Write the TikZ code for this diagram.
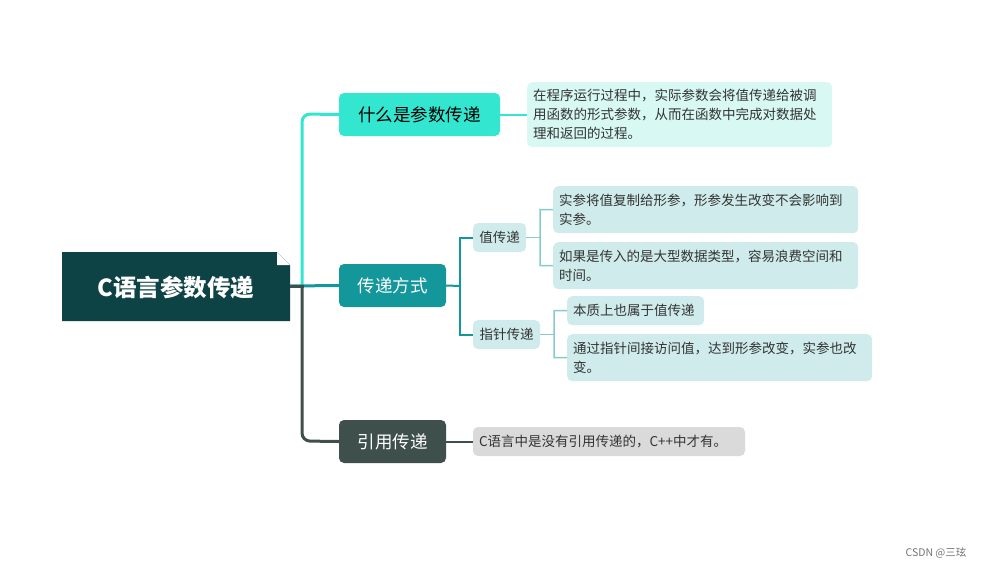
\documentclass[tikz,border=0pt]{standalone}
\usepackage{fontspec}
\setmainfont{Noto Sans CJK SC}
\usetikzlibrary{positioning}
\definecolor{RootC}{HTML}{0E4345}
\definecolor{MintC}{HTML}{32E6CF}
\definecolor{MintL}{HTML}{D7F8F3}
\definecolor{TealC}{HTML}{13979A}
\definecolor{TealL}{HTML}{CFEBEB}
\definecolor{TealM}{HTML}{85CACC}
\definecolor{SlateC}{HTML}{3E4F4C}
\definecolor{GreyL}{HTML}{DADADA}
\tikzset{
  topic/.style={rounded corners=5pt, inner sep=0pt, font=\fontsize{17.5}{20}\selectfont},
  leaf/.style={rounded corners=5pt, inner sep=0pt, fill=TealL, text=black!80, font=\fontsize{13.5}{19}\selectfont},
  note/.style={leaf, align=left, anchor=north west, inner xsep=6pt, inner ysep=4pt, minimum height=47pt},
}
\begin{document}
\begin{tikzpicture}[x=1pt,y=-1pt]
        \useasboundingbox (0,0) rectangle (986,568);

        % root
        \fill[RootC] (62,252) -- (277,252) -- (290,265) -- (290,321) -- (62,321) -- cycle;
        \fill[white] (277,252) -- (290,265) -- (277,265) -- cycle;
        \node[text=white, font=\fontsize{23.5}{26}\selectfont\bfseries] (root) at (176,287) {C语言参数传递};
        \coordinate (rootR) at (290,286);

        % main topics
        \node[topic, fill=MintC, minimum width=161pt, minimum height=43pt] (what) at (419.5,114.5) {什么是参数传递};
        \node[topic, fill=TealC, text=white, minimum width=107pt, minimum height=43pt] (way) at (392.5,285.5) {传递方式};
        \node[topic, fill=SlateC, text=white, minimum width=107pt, minimum height=43pt] (ref) at (392.5,441.5) {引用传递};

        \draw[MintC, line width=3pt, rounded corners=8pt] (302,286) -- (302,114) -- (what.west);
        \draw[SlateC, line width=3pt, rounded corners=8pt] (302,286) -- (302,441) -- (ref.west);
        \draw[TealC, line width=3pt] (rootR) -- (way.west);
        \draw[SlateC, line width=3pt] (rootR) -- (303.5,286);

        % what
        \node[note, fill=MintL, text width=293pt, minimum height=65pt] (whatD) at (527,82) {在程序运行过程中，实际参数会将值传递给被调\\用函数的形式参数，从而在函数中完成对数据处\\理和返回的过程。};
        \draw[MintC, line width=2pt] (what.east) -- (whatD.west |- what.east);

        % way
        \node[leaf, minimum width=53pt, minimum height=29pt] (val) at (499.5,237.5) {值传递};
        \node[leaf, minimum width=67pt, minimum height=29pt] (ptr) at (506.5,334.5) {指针传递};
        \draw[TealC, line width=2pt] (way.east) -- (460,286);
        \draw[TealC, line width=2pt] (val.west) -- (460,237.5) -- (460,334.5) -- (ptr.west);

        \node[note, text width=293pt] (valA) at (553,186) {实参将值复制给形参，形参发生改变不会影响到\\实参。};
        \node[note, text width=293pt] (valB) at (553,242) {如果是传入的是大型数据类型，容易浪费空间和\\时间。};
        \node[note, text width=125pt, minimum height=29pt] (ptrA) at (567,296) {本质上也属于值传递};
        \node[note, text width=293pt] (ptrB) at (567,334) {通过指针间接访问值，达到形参改变，实参也改\\变。};
        \draw[TealM, line width=1.5pt] (val.east) -- (540,237.5);
        \draw[TealM, line width=1.5pt] (valA.west) -- (540,209.5) -- (540,265.5) -- (valB.west);
        \draw[TealM, line width=1.5pt] (ptr.east) -- (554,334.5);
        \draw[TealM, line width=1.5pt] (ptrA.west) -- (554,310.5) -- (554,357.5) -- (ptrB.west);

        % ref
        \node[leaf, fill=GreyL, align=left, text width=260pt, minimum width=272pt, minimum height=29pt] (refD) at (609,441.5) {C语言中是没有引用传递的，C++中才有。};
        \draw[SlateC, line width=2pt] (ref.east) -- (refD.west);

        \node[text=black!55, font=\fontsize{10.5}{12}\selectfont] (mark) at (936,553) {CSDN @三玹};
\end{tikzpicture}
\end{document}
